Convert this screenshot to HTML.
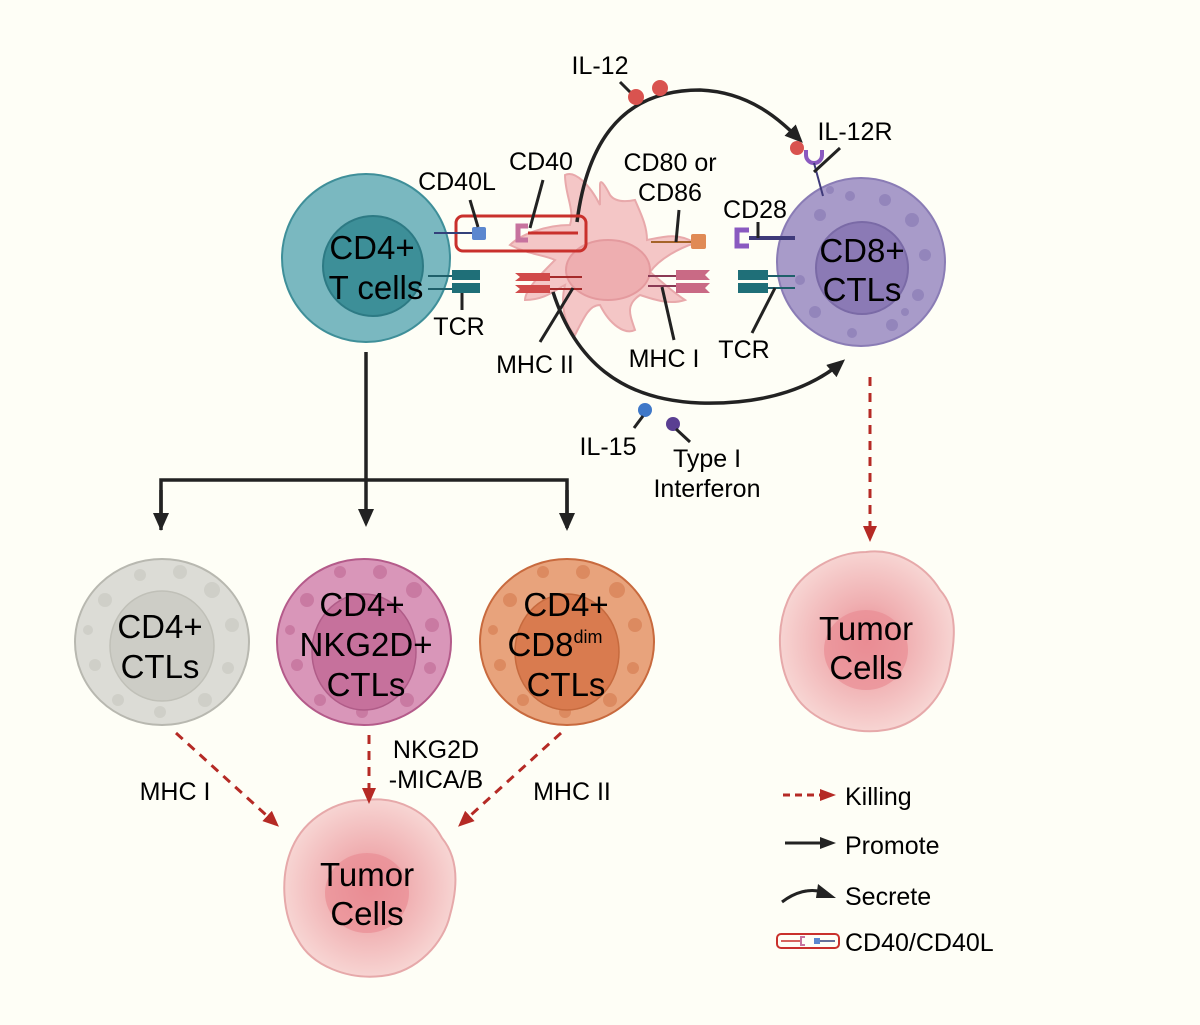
<!DOCTYPE html>
<html><head><meta charset="utf-8"><style>
html,body{margin:0;padding:0;background:#fefef6;}
svg{display:block}
text{font-family:"Liberation Sans",Arial,sans-serif;fill:#000}
</style></head><body>
<svg width="1200" height="1025" viewBox="0 0 1200 1025" xmlns="http://www.w3.org/2000/svg">
<defs>
<marker id="abig" markerWidth="18" markerHeight="16" refX="14" refY="8" orient="auto" markerUnits="userSpaceOnUse"><path d="M0,0 L18,8 L0,16z" fill="#222"/></marker>
<marker id="ar" markerWidth="16" markerHeight="14" refX="12" refY="7" orient="auto" markerUnits="userSpaceOnUse"><path d="M0,0 L16,7 L0,14z" fill="#b52a25"/></marker>
<radialGradient id="tum" cx="50%" cy="50%" r="50%"><stop offset="0" stop-color="#e88a92"/><stop offset="0.45" stop-color="#f0b0b2"/><stop offset="1" stop-color="#f7d4d2"/></radialGradient>
</defs>
<rect width="1200" height="1025" fill="#fefef6"/>

<!-- DC -->
<g fill="#f4c6c6" stroke="#e8a9ab" stroke-width="2">
<path d="M600,205 C590,185 575,170 565,175 C565,195 575,210 570,225 C545,225 520,235 510,245 C530,255 545,255 555,260 C540,275 525,290 525,300 C545,300 555,290 565,285 C560,305 565,325 575,335 C585,315 590,305 600,305 C610,325 625,335 635,330 C630,315 625,305 640,295 C655,300 670,305 685,300 C670,290 660,280 650,272 C660,258 680,248 695,243 C678,232 662,237 647,240 C647,225 640,212 635,200 C625,202 615,202 610,195 C605,185 600,178 600,185z"/>
</g>
<ellipse cx="608" cy="270" rx="42" ry="30" fill="#eeaeb0" stroke="#e49a9e" stroke-width="2"/>

<!-- secrete curves -->
<path d="M577,222 C590,120 640,90 700,90 C750,92 780,120 800,140" fill="none" stroke="#222" stroke-width="3.5" marker-end="url(#abig)"/>
<path d="M553,292 C575,360 620,400 700,403 C770,405 815,385 842,362" fill="none" stroke="#222" stroke-width="3.5" marker-end="url(#abig)"/>

<!-- CD4 T cell -->
<circle cx="366" cy="258" r="84" fill="#7ab8c0" stroke="#3f8f99" stroke-width="2"/>
<circle cx="373" cy="266" r="50" fill="#3d8f98" stroke="#2d7a84" stroke-width="2"/>
<text x="372" y="259" font-size="33" text-anchor="middle">CD4+</text>
<text x="376" y="299" font-size="33" text-anchor="middle">T cells</text>

<!-- CD8 CTL -->
<circle cx="861" cy="262" r="84" fill="#a89bc9" stroke="#8a7cb5" stroke-width="2"/>
<g fill="#9385bb"><circle cx="820" cy="215" r="6"/><circle cx="850" cy="196" r="5"/><circle cx="885" cy="200" r="6"/><circle cx="912" cy="220" r="7"/><circle cx="925" cy="255" r="6"/><circle cx="918" cy="295" r="6"/><circle cx="892" cy="325" r="6"/><circle cx="852" cy="333" r="5"/><circle cx="815" cy="312" r="6"/><circle cx="800" cy="280" r="5"/><circle cx="830" cy="190" r="4"/><circle cx="905" cy="312" r="4"/></g>
<circle cx="862" cy="268" r="46" fill="#8b7ab5" stroke="#7a6aa6" stroke-width="2"/>
<text x="862" y="262" font-size="33" text-anchor="middle">CD8+</text>
<text x="862" y="301" font-size="33" text-anchor="middle">CTLs</text>

<!-- CD40 box -->
<rect x="456" y="216" width="130" height="35" rx="7" fill="none" stroke="#c9302c" stroke-width="3"/>
<line x1="434" y1="233" x2="478" y2="233" stroke="#33407a" stroke-width="2"/>
<rect x="472" y="227" width="14" height="13" rx="2" fill="#5b87cf"/>
<line x1="478" y1="227" x2="470" y2="200" stroke="#222" stroke-width="3"/>
<path d="M528,226 h-10 v14 h10" fill="none" stroke="#c7739e" stroke-width="5"/>
<line x1="528" y1="233" x2="578" y2="233" stroke="#c9302c" stroke-width="3"/>
<line x1="530" y1="228" x2="543" y2="180" stroke="#222" stroke-width="3"/>
<text x="457" y="190" font-size="25" text-anchor="middle">CD40L</text>
<text x="541" y="170" font-size="25" text-anchor="middle">CD40</text>

<!-- TCR left -->
<line x1="428" y1="276" x2="480" y2="276" stroke="#1f5f6a" stroke-width="2"/>
<line x1="428" y1="289" x2="480" y2="289" stroke="#1f5f6a" stroke-width="2"/>
<rect x="452" y="270" width="28" height="10" fill="#1f6f78"/>
<rect x="452" y="283" width="28" height="10" fill="#1f6f78"/>
<line x1="462" y1="293" x2="462" y2="310" stroke="#222" stroke-width="3"/>
<text x="459" y="335" font-size="25" text-anchor="middle">TCR</text>

<!-- MHC II -->
<path d="M515,273 h35 v8 h-35 l5,-4z" fill="#d14a4a"/>
<path d="M515,285 h35 v8 h-35 l5,-4z" fill="#d14a4a"/>
<line x1="550" y1="277" x2="582" y2="277" stroke="#a52a2a" stroke-width="2"/>
<line x1="550" y1="289" x2="582" y2="289" stroke="#a52a2a" stroke-width="2"/>
<line x1="573" y1="288" x2="540" y2="342" stroke="#222" stroke-width="3"/>
<text x="535" y="373" font-size="25" text-anchor="middle">MHC II</text>

<!-- CD80 -->
<line x1="651" y1="242" x2="695" y2="242" stroke="#a5642a" stroke-width="2"/>
<rect x="691" y="234" width="15" height="15" rx="2" fill="#e08a55"/>
<line x1="676" y1="242" x2="679" y2="210" stroke="#222" stroke-width="3"/>
<text x="670" y="171" font-size="25" text-anchor="middle">CD80 or</text>
<text x="670" y="201" font-size="25" text-anchor="middle">CD86</text>

<!-- MHC I -->
<line x1="648" y1="276" x2="680" y2="276" stroke="#8b3a55" stroke-width="2"/>
<line x1="648" y1="286" x2="680" y2="286" stroke="#8b3a55" stroke-width="2"/>
<path d="M676,270 h34 l-5,5 l5,5 h-34z" fill="#c96a85"/>
<path d="M676,283 h34 l-5,5 l5,5 h-34z" fill="#c96a85"/>
<line x1="662" y1="287" x2="674" y2="340" stroke="#222" stroke-width="3"/>
<text x="664" y="367" font-size="25" text-anchor="middle">MHC I</text>

<!-- CD28 -->
<path d="M749,230 h-12 v16 h12" fill="none" stroke="#8a5ac0" stroke-width="5"/>
<line x1="749" y1="238" x2="795" y2="238" stroke="#3f3a7a" stroke-width="4"/>
<line x1="758" y1="238" x2="758" y2="222" stroke="#222" stroke-width="3"/>
<text x="755" y="218" font-size="25" text-anchor="middle">CD28</text>

<!-- TCR right -->
<line x1="765" y1="276" x2="795" y2="276" stroke="#1f5f6a" stroke-width="2"/>
<line x1="765" y1="288" x2="795" y2="288" stroke="#1f5f6a" stroke-width="2"/>
<rect x="738" y="270" width="30" height="10" fill="#1f6f78"/>
<rect x="738" y="283" width="30" height="10" fill="#1f6f78"/>
<line x1="775" y1="288" x2="752" y2="333" stroke="#222" stroke-width="3"/>
<text x="744" y="358" font-size="25" text-anchor="middle">TCR</text>

<!-- IL-12R -->
<path d="M806,150 v5 a8,8 0 0,0 16,0 v-5" fill="none" stroke="#8a5ac0" stroke-width="4"/>
<circle cx="797" cy="148" r="7" fill="#d9534f"/>
<line x1="814" y1="163" x2="823" y2="196" stroke="#3f3a7a" stroke-width="2"/>
<line x1="814" y1="172" x2="840" y2="148" stroke="#222" stroke-width="3"/>
<text x="855" y="140" font-size="25" text-anchor="middle">IL-12R</text>

<!-- IL-12 -->
<text x="600" y="74" font-size="25" text-anchor="middle">IL-12</text>
<line x1="620" y1="82" x2="633" y2="95" stroke="#222" stroke-width="3"/>
<circle cx="636" cy="97" r="8" fill="#d9534f"/>
<circle cx="660" cy="88" r="8" fill="#d9534f"/>

<!-- IL-15 / IFN -->
<circle cx="645" cy="410" r="7" fill="#3f78c8"/>
<line x1="643" y1="416" x2="634" y2="428" stroke="#222" stroke-width="3"/>
<text x="608" y="455" font-size="25" text-anchor="middle">IL-15</text>
<circle cx="673" cy="424" r="7" fill="#5a3f92"/>
<line x1="676" y1="429" x2="690" y2="442" stroke="#222" stroke-width="3"/>
<text x="707" y="467" font-size="25" text-anchor="middle">Type I</text>
<text x="707" y="497" font-size="25" text-anchor="middle">Interferon</text>

<!-- tree -->
<line x1="366" y1="352" x2="366" y2="523" stroke="#222" stroke-width="3.5" marker-end="url(#abig)"/>
<polyline points="161,530 161,480 567,480 567,528" fill="none" stroke="#222" stroke-width="3.5"/>
<line x1="161" y1="490" x2="161" y2="527" stroke="#222" stroke-width="3.5" marker-end="url(#abig)"/>
<line x1="567" y1="490" x2="567" y2="527" stroke="#222" stroke-width="3.5" marker-end="url(#abig)"/>

<!-- lower cells -->
<ellipse cx="162" cy="642" rx="87" ry="83" fill="#dcdcd6" stroke="#b8b8b0" stroke-width="2"/>
<g fill="#cfcfc8"><circle cx="105" cy="600" r="7"/><circle cx="140" cy="575" r="6"/><circle cx="180" cy="572" r="7"/><circle cx="212" cy="590" r="8"/><circle cx="232" cy="625" r="7"/><circle cx="228" cy="668" r="6"/><circle cx="205" cy="700" r="7"/><circle cx="160" cy="712" r="6"/><circle cx="118" cy="700" r="6"/><circle cx="95" cy="665" r="6"/><circle cx="88" cy="630" r="5"/></g>
<ellipse cx="162" cy="646" rx="52" ry="55" fill="#cdcdc6" stroke="#c0c0b8" stroke-width="1.5"/>
<text x="160" y="638" font-size="33" text-anchor="middle">CD4+</text>
<text x="160" y="678" font-size="33" text-anchor="middle">CTLs</text>

<ellipse cx="364" cy="642" rx="87" ry="83" fill="#d996b9" stroke="#b45b8a" stroke-width="2"/>
<g fill="#c97aa2"><circle cx="307" cy="600" r="7"/><circle cx="340" cy="572" r="6"/><circle cx="380" cy="572" r="7"/><circle cx="414" cy="590" r="8"/><circle cx="432" cy="625" r="7"/><circle cx="430" cy="668" r="6"/><circle cx="407" cy="700" r="7"/><circle cx="362" cy="712" r="6"/><circle cx="320" cy="700" r="6"/><circle cx="297" cy="665" r="6"/><circle cx="290" cy="630" r="5"/></g>
<ellipse cx="364" cy="652" rx="52" ry="58" fill="#c6719c" stroke="#b05c88" stroke-width="1.5"/>
<text x="362" y="616" font-size="33" text-anchor="middle">CD4+</text>
<text x="366" y="656" font-size="33" text-anchor="middle">NKG2D+</text>
<text x="366" y="696" font-size="33" text-anchor="middle">CTLs</text>

<ellipse cx="567" cy="642" rx="87" ry="83" fill="#e8a37c" stroke="#c86a3e" stroke-width="2"/>
<g fill="#dc8a60"><circle cx="510" cy="600" r="7"/><circle cx="543" cy="572" r="6"/><circle cx="583" cy="572" r="7"/><circle cx="617" cy="590" r="8"/><circle cx="635" cy="625" r="7"/><circle cx="633" cy="668" r="6"/><circle cx="610" cy="700" r="7"/><circle cx="565" cy="712" r="6"/><circle cx="523" cy="700" r="6"/><circle cx="500" cy="665" r="6"/><circle cx="493" cy="630" r="5"/></g>
<ellipse cx="567" cy="652" rx="52" ry="58" fill="#d97b4f" stroke="#c66a3e" stroke-width="1.5"/>
<text x="566" y="616" font-size="33" text-anchor="middle">CD4+</text>
<text x="555" y="656" font-size="33" text-anchor="middle">CD8<tspan font-size="18" dy="-13">dim</tspan></text>
<text x="566" y="696" font-size="33" text-anchor="middle">CTLs</text>

<!-- tumor right -->
<path d="M866,552 C895,548 925,565 940,590 C958,610 955,640 950,665 C945,695 920,725 885,730 C850,736 810,720 795,695 C778,670 775,630 788,600 C800,572 835,552 866,552z" fill="url(#tum)" stroke="#e6a9aa" stroke-width="2"/>
<ellipse cx="866" cy="650" rx="42" ry="40" fill="#e98d94" opacity="0.7"/>
<text x="866" y="640" font-size="33" text-anchor="middle">Tumor</text>
<text x="866" y="679" font-size="33" text-anchor="middle">Cells</text>

<!-- tumor bottom -->
<path d="M367,800 C398,796 428,812 442,838 C460,860 457,890 450,915 C444,942 418,972 382,976 C348,980 312,966 298,940 C282,915 280,876 292,848 C305,818 336,800 367,800z" fill="url(#tum)" stroke="#e6a9aa" stroke-width="2"/>
<ellipse cx="367" cy="893" rx="42" ry="40" fill="#e98d94" opacity="0.7"/>
<text x="367" y="886" font-size="33" text-anchor="middle">Tumor</text>
<text x="367" y="925" font-size="33" text-anchor="middle">Cells</text>

<!-- killing arrows -->
<line x1="870" y1="377" x2="870" y2="538" stroke="#b52a25" stroke-width="3" stroke-dasharray="9,7" marker-end="url(#ar)"/>
<line x1="176" y1="733" x2="276" y2="824" stroke="#b52a25" stroke-width="3" stroke-dasharray="9,7" marker-end="url(#ar)"/>
<line x1="369" y1="735" x2="369" y2="800" stroke="#b52a25" stroke-width="3" stroke-dasharray="9,7" marker-end="url(#ar)"/>
<line x1="561" y1="733" x2="461" y2="824" stroke="#b52a25" stroke-width="3" stroke-dasharray="9,7" marker-end="url(#ar)"/>
<text x="175" y="800" font-size="25" text-anchor="middle">MHC I</text>
<text x="436" y="758" font-size="25" text-anchor="middle">NKG2D</text>
<text x="436" y="788" font-size="25" text-anchor="middle">-MICA/B</text>
<text x="572" y="800" font-size="25" text-anchor="middle">MHC II</text>

<!-- legend -->
<line x1="783" y1="795" x2="822" y2="795" stroke="#b52a25" stroke-width="3" stroke-dasharray="7,5"/>
<path d="M820,789 L836,795 L820,801z" fill="#b52a25"/>
<text x="845" y="805" font-size="25">Killing</text>
<line x1="785" y1="843" x2="822" y2="843" stroke="#222" stroke-width="3"/>
<path d="M820,837 L836,843 L820,849z" fill="#222"/>
<text x="845" y="854" font-size="25">Promote</text>
<path d="M782,902 C795,892 810,888 822,892" fill="none" stroke="#222" stroke-width="3"/>
<path d="M818,884 L836,898 L816,898z" fill="#222"/>
<text x="845" y="905" font-size="25">Secrete</text>
<rect x="777" y="934" width="62" height="14" rx="4" fill="none" stroke="#c9302c" stroke-width="2"/>
<line x1="781" y1="941" x2="800" y2="941" stroke="#c9302c" stroke-width="1.5"/>
<path d="M805,937 h-4 v8 h4" fill="none" stroke="#c7739e" stroke-width="2"/>
<rect x="814" y="938" width="6" height="6" fill="#5b87cf"/>
<line x1="820" y1="941" x2="835" y2="941" stroke="#33407a" stroke-width="1.5"/>
<text x="845" y="951" font-size="25">CD40/CD40L</text>
</svg>
</body></html>
